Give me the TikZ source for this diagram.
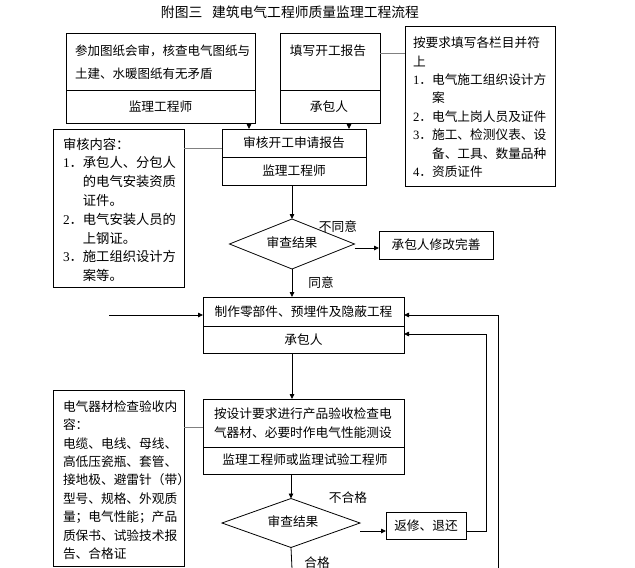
\documentclass[tikz,border=0pt]{standalone}
\usepackage{fontspec}
\setmainfont{Noto Sans CJK SC}
\newfontfamily\numf{Liberation Serif}
\usetikzlibrary{arrows.meta,shapes.geometric}
\newcommand{\nm}[1]{{\numf #1}．}
\newcommand{\ind}{\phantom{\nm{1}}}
\begin{document}
\begin{tikzpicture}[x=1pt,y=-1pt,
  line width=0.8pt,
  box/.style={draw,inner sep=0pt,outer sep=0pt},
  dia/.style={draw,diamond,aspect=2.5,inner sep=0pt,outer sep=0pt},
  txt/.style={inner sep=0pt,outer sep=0pt,font=\fontsize{12.7}{18.4}\selectfont},
  ltxt/.style={txt,align=left,anchor=west},
  arr/.style={-{Triangle[length=5pt,width=4.5pt]}},
  note/.style={draw=gray}
]
\useasboundingbox (0,0) rectangle (635,568);

% title
\node[txt,font=\fontsize{13.8}{16}\selectfont] (title) at (290,12) {附图三\hspace{0.7em}建筑电气工程师质量监理工程流程};

% box A
\node[box,minimum width=189pt,minimum height=90pt] (A) at (160.5,78) {};
\draw (66,90) -- (255,90);
\node[ltxt,font=\fontsize{12.5}{22.8}\selectfont] (At) at (75,62) {参加图纸会审，核查电气图纸与\\土建、水暖图纸有无矛盾};
\node[txt] (Ab) at (160.5,107) {监理工程师};

% box B
\node[box,minimum width=100pt,minimum height=90pt] (B) at (330,78) {};
\draw (280,90) -- (380,90);
\node[txt] (Bt) at (328,50.5) {填写开工报告};
\node[txt] (Bb) at (329,107) {承包人};

% box C
\node[box,minimum width=150pt,minimum height=160pt] (C) at (480,106) {};
\node[ltxt] (Ct) at (413,107.2) {按要求填写各栏目并符\\上\\\nm{1}电气施工组织设计方\\\ind 案\\\nm{2}电气上岗人员及证件\\\nm{3}施工、检测仪表、设\\\ind 备、工具、数量品种\\\nm{4}资质证件};

% box D
\node[box,minimum width=144pt,minimum height=56pt] (D) at (294,157) {};
\draw (222,157) -- (366,157);
\node[txt] (Dt) at (294,143) {审核开工申请报告};
\node[txt] (Db) at (294,171) {监理工程师};

% box E
\node[box,minimum width=131pt,minimum height=158pt] (E) at (118.5,208) {};
\node[ltxt,font=\fontsize{13.3}{18.8}\selectfont] (Et) at (63,209.8) {审核内容：\\\nm{1}承包人、分包人\\\ind 的电气安装资质\\\ind 证件。\\\nm{2}电气安装人员的\\\ind 上钢证。\\\nm{3}施工组织设计方\\\ind 案等。};

% diamond 1
\node[dia,minimum width=125pt,minimum height=50pt] (d1) at (292,244) {};
\node[txt] (d1t) at (292,243) {审查结果};

% box F
\node[box,minimum width=114pt,minimum height=28pt] (F) at (436,245) {};
\node[txt] (Ft) at (436,245) {承包人修改完善};

% box G
\node[box,minimum width=201pt,minimum height=56pt] (G) at (303.5,325) {};
\draw (203,326) -- (404,326);
\node[txt] (Gt) at (303.5,312) {制作零部件、预埋件及隐蔽工程};
\node[txt] (Gb) at (303.5,340) {承包人};

% box H
\node[box,minimum width=201pt,minimum height=75pt] (H) at (303.5,436.5) {};
\draw (203,447) -- (404,447);
\node[ltxt,font=\fontsize{12.7}{19}\selectfont] (Ht) at (214,423) {按设计要求进行产品验收检查电\\气器材、必要时作电气性能测设};
\node[txt] (Hb) at (305,460) {监理工程师或监理试验工程师};

% box I
\node[box,minimum width=131pt,minimum height=176pt] (I) at (118.5,478) {};
\node[ltxt] (It) at (63,480) {电气器材检查验收内\\容：\\电缆、电线、母线、\\高低压瓷瓶、套管、\\接地极、避雷针（带）\\型号、规格、外观质\\量；电气性能；产品\\质保书、试验技术报\\告、合格证};

% diamond 2
\node[dia,minimum width=138pt,minimum height=49pt] (d2) at (291,523) {};
\node[txt] (d2t) at (293,522) {审查结果};

% box J
\node[box,minimum width=80pt,minimum height=27pt] (J) at (426,525.5) {};
\node[txt] (Jt) at (426,525.5) {返修、退还};

% labels
\node[txt] (l1) at (338,227) {不同意};
\node[txt] (l2) at (321,283) {同意};
\node[txt] (l3) at (348,498) {不合格};
\node[txt] (l4) at (317,563) {合格};

% free ends
\coordinate (lin) at (109,315);
\coordinate (rin) at (498,569);
\coordinate (bout) at (292,569);

% gray note connectors
\draw[note] ([yshift=25pt]B.east) -- ([yshift=25pt]B.east -| C.west);
\draw[note] ([yshift=9pt]D.west) -- ([yshift=9pt]D.west -| E.east);
\draw[note] ([yshift=9.5pt]H.west) -- ([yshift=9.5pt]H.west -| I.east);

% arrows
\draw[arr] ([xshift=-6pt]A.south east) -- ([xshift=-6pt]A.south east |- D.north);
\draw[arr] ([xshift=19pt]B.south) -- ([xshift=19pt]B.south |- D.north);
\draw[arr] (d1.north |- D.south) -- (d1.north);
\draw[arr] ([yshift=-3pt]F.west -| d1.east) -- ([yshift=-3pt]F.west);
\draw[arr] (d1.south) -- (d1.south |- G.north);
\draw[arr] (lin) -- (lin -| G.west);
\draw[arr] (rin) |- ([yshift=10pt]G.east);
\draw[arr] ([yshift=-5.5pt]J.east) -- ++(20pt,0) |- ([yshift=-9pt]G.east);
\draw[arr] (G.south -| d1.south) -- (H.north -| d1.south);
\draw[arr] (H.south -| d2.north) -- (d2.north);
\draw[arr] ([yshift=-5.5pt]J.west -| d2.east) -- ([yshift=-5.5pt]J.west);
\draw (d2.south) -- (bout);
\end{tikzpicture}
\end{document}
